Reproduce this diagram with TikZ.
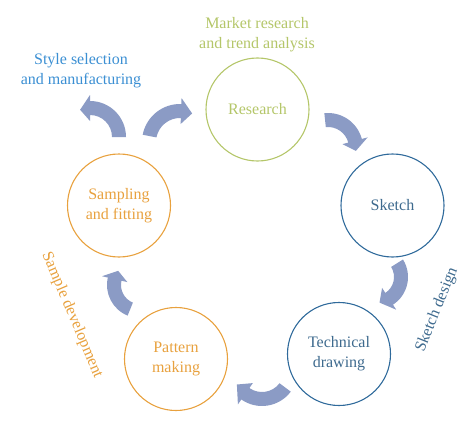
\documentclass[tikz,border=0pt]{standalone}
\usepackage{fontspec}
\setmainfont{Liberation Serif}
\definecolor{cgreen}{RGB}{180,198,105}
\definecolor{cblue}{RGB}{47,106,155}
\definecolor{cbluetext}{RGB}{62,106,142}
\definecolor{corange}{RGB}{232,161,62}
\definecolor{cstyle}{RGB}{59,143,211}
\definecolor{arrowc}{RGB}{139,155,197}
\tikzset{
  stage/.style={circle, draw, line width=1.1pt, minimum size=103pt, inner sep=0pt, align=center, font=\fontsize{16}{20}\selectfont},
  lbl/.style={align=center, font=\fontsize{16}{20}\selectfont},
}
\newcommand{\cyclearrow}[6]{%
  \pgfmathsetmacro{\carRo}{#3+7}\pgfmathsetmacro{\carRi}{#3-7}%
  \pgfmathsetmacro{\carHo}{#3+13}\pgfmathsetmacro{\carHi}{#3-13}%
  \fill[arrowc,shift={(#1,#2)}] (#4:\carRo pt) arc[start angle=#4,end angle=#5,radius=\carRo pt]
    -- (#5:\carHo pt) -- (#6:#3pt) -- (#5:\carHi pt) -- (#5:\carRi pt)
    arc[start angle=#5,end angle=#4,radius=\carRi pt] -- cycle;}
\begin{document}
\begin{tikzpicture}[x=1pt,y=1pt]
\useasboundingbox (0,0) rectangle (474,-428);
\node[stage, draw=cgreen, text=cgreen] (research) at (257.5,-109.5) {Research};
\node[stage, draw=cblue, text=cbluetext] (sketch) at (392.5,-205.5) {Sketch};
\node[stage, draw=cblue, text=cbluetext] (technical) at (339,-354) {Technical\\drawing};
\node[stage, draw=corange, text=corange] (pattern) at (176,-359) {Pattern\\making};
\node[stage, draw=corange, text=corange] (sampling) at (119,-205.5) {Sampling\\and fitting};
\node[lbl, text=cgreen] (market) at (257,-35) {Market research\\and trend analysis};
\node[lbl, text=cstyle] (style) at (81,-71) {Style selection\\and manufacturing};
\node[lbl, text=cbluetext, rotate=68] (sketchdesign) at (437,-310) {Sketch design};
\node[lbl, text=corange, rotate=-67] (sampledev) at (72,-315) {Sample development};
% curved block arrows: center x, center y, radius, tail angle, head-back angle, tip angle
\cyclearrow{90}{-137}{29}{0}{90}{110}
\cyclearrow{180}{-142}{31}{169}{88}{67}
\cyclearrow{328}{-148}{28}{96}{15}{-6}
\cyclearrow{375}{-277}{26}{32}{-57}{-80}
\cyclearrow{262}{-370}{29}{-37}{-125}{-150}
\cyclearrow{140}{-285}{26}{-112}{-193}{-213}
\end{tikzpicture}
\end{document}
